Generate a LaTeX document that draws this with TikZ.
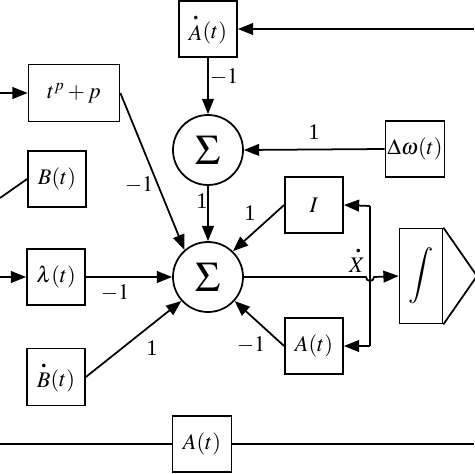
\documentclass[tikz,border=0pt]{standalone}
\usepackage{mathptmx}
\usepackage{fontspec}
\setmainfont{Liberation Serif}
\usetikzlibrary{arrows.meta}
\newcommand{\hdot}[1]{\mathord{\stackrel{\raisebox{1pt}{\bfseries .}}{#1}}}
\begin{document}
\begin{tikzpicture}[x=0.03cm,y=-0.03cm,
  line width=1.5pt,
  every node/.style={font=\fontsize{19}{22}\selectfont},
  blk/.style={draw,line width=1.5pt,inner sep=0pt,minimum width=1.74cm,minimum height=1.68cm},
  sumnode/.style={draw,circle,line width=1.5pt,inner sep=0pt,minimum size=2.1cm,font=\fontsize{36}{40}\selectfont},
  arr/.style={-{Triangle[length=13pt,width=10pt]}},
  lbl/.style={inner sep=0pt}]
\useasboundingbox (0,0) rectangle (474,474);
% blocks
\node[blk] (Adot) at (208,29) {$\hdot{A}(t)$};
\node[blk,minimum width=2.73cm,minimum height=1.71cm] (tpp) at (74,93) {$t^{p}+p$};
\node[blk] (Bt) at (57,179) {$B(t)$};
\node[blk] (lam) at (56,277) {$\lambda(t)$};
\node[blk,minimum height=1.71cm] (Bdot) at (56,377) {$\hdot{B}(t)$};
\node[blk,minimum width=1.77cm] (dw) at (415,149) {$\Delta\omega(t)$};
\node[blk] (I) at (314,205) {$I$};
\node[blk] (At) at (314,346) {$A(t)$};
\node[blk,minimum width=1.29cm,minimum height=2.85cm] (int) at (421,276) {\fontsize{24}{28}\selectfont$\displaystyle\int$};
\node[blk,minimum width=1.77cm] (Abot) at (202,444) {$A(t)$};
\node[sumnode] (S1) at (208,150) {$\Sigma$};
\node[sumnode] (S2) at (208,277) {$\Sigma$};
% free ends
\coordinate (inA) at (474,29);
\coordinate (intpp) at (0,93);
\coordinate (outB) at (0,198);
\coordinate (inlam) at (0,277);
\coordinate (v1) at (370,206);
\coordinate (v2) at (370,346);
\coordinate (hopA) at (366,277);
\coordinate (tip) at (477,276);
\coordinate (botL) at (0,444);
\coordinate (botR) at (474,444);
% connectors
\draw[arr] (inA) -- (Adot.east);
\draw[arr] (Adot.south) -- (S1.north);
\node[lbl] (l1) at (224,77) {$-1$};
\draw[arr] (intpp) -- (tpp.west);
\draw[arr] (tpp.east) -- (S2.131);
\node[lbl] (l2) at (139,185) {$-1$};
\draw (outB) -- (Bt.west);
\draw[arr] (S1.south) -- (S2.north);
\node[lbl] (l3) at (202,201) {1};
\draw[arr] (dw.west) -- (S1.east);
\node[lbl] (l4) at (314,132) {1};
\draw[arr] (I.west) -- (S2.46);
\node[lbl] (l5) at (250,213) {1};
\draw[arr] (inlam) -- (lam.west);
\draw[arr] (lam.east) -- (S2.west);
\node[lbl] (l6) at (115,293) {$-1$};
\draw[arr] (Bdot.east) -- (S2.222);
\node[lbl] (l7) at (152,348) {1};
\draw[arr] (At.west) -- (S2.318);
\node[lbl] (l8) at (251,345) {$-1$};
\draw[arr] (S2.east) -- (hopA) arc[start angle=180,end angle=0,radius=4] -- (int.west);
\node[lbl] (lx) at (357,260) {$\hdot{X}$};
\draw (v1) -- (v2);
\draw[arr] (v1) -- (I.east);
\draw[arr] (v2) -- (At.east);
\draw (int.north east) -- (tip) -- (int.south east);
\draw (botL) -- (Abot.west);
\draw (Abot.east) -- (botR);
\end{tikzpicture}
\end{document}
